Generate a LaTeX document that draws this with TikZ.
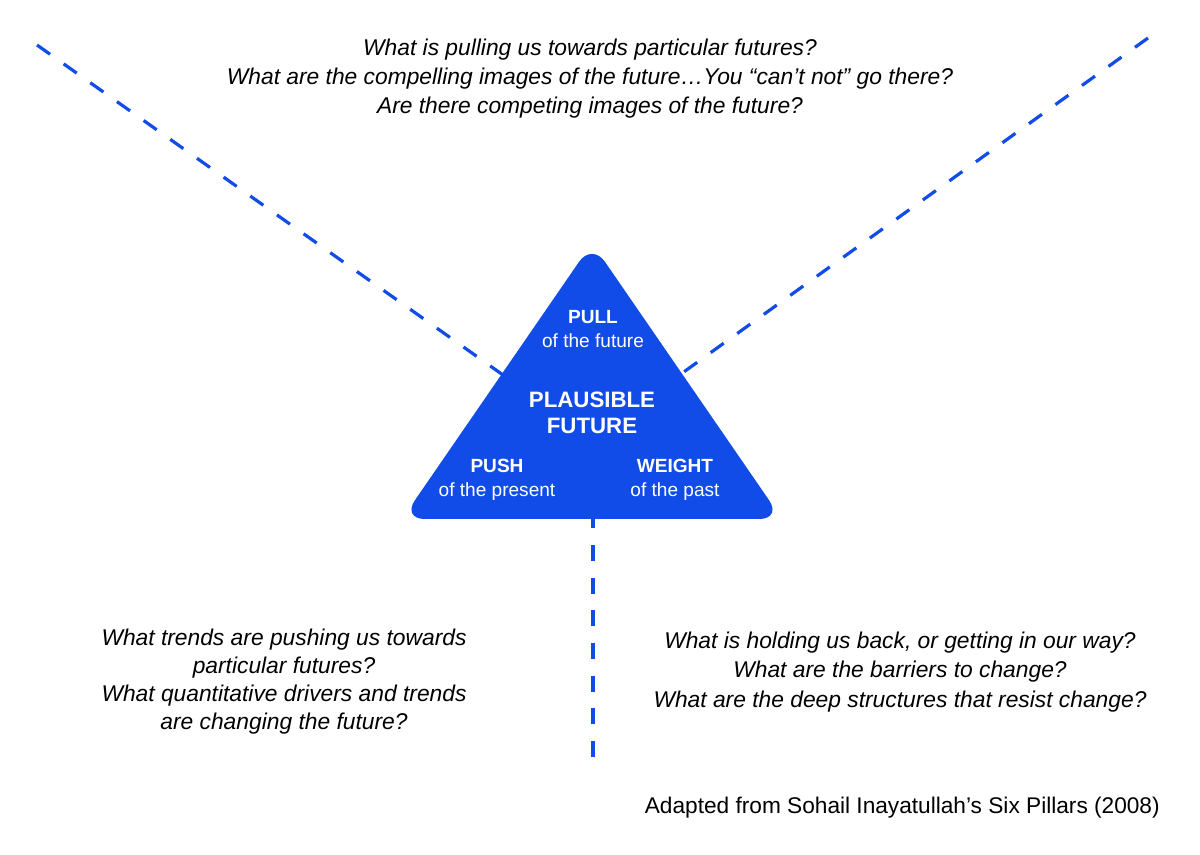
\documentclass[tikz,border=0pt]{standalone}
\usepackage{fontspec}
\setmainfont{Liberation Sans}
\definecolor{fblue}{RGB}{18,76,232}
\begin{document}
\begin{tikzpicture}[x=0.75pt,y=-0.75pt,
  dline/.style={draw=fblue,line width=2.4pt,dash pattern=on 12pt off 12.5pt},
  tri/.style={fill=fblue,rounded corners=17pt},
  question/.style={align=center,font=\fontsize{17.1}{21.8}\selectfont\itshape,text=black,inner sep=0pt},
  lbl/.style={align=center,text=white,font=\fontsize{14.3}{18}\selectfont,inner sep=0pt},
  bigl/.style={align=center,text=white,font=\fontsize{16.7}{19.5}\selectfont\bfseries,inner sep=0pt}]
\useasboundingbox (0,0) rectangle (1200,855);
\fill[white] (0,0) rectangle (1200,855);
% line ends
\coordinate (c) at (592,438);
\coordinate (tl) at (37,45);
\coordinate (tr) at (1148,38);
\coordinate (bot) at (593,757);
\draw[dline] (tl) -- (c);
\draw[dline] (tr) -- (c);
\draw[dline] (bot) -- (593,438);
% triangle
\coordinate (apex) at (592,243);
\coordinate (bl) at (402,519);
\coordinate (br) at (782,519);
\fill[tri] (apex) -- (br) -- (bl) -- cycle;
% labels in triangle
\node[lbl] (pull) at (593,329) {\textbf{PULL}\\of the future};
\node[bigl] (plaus) at (592,413) {PLAUSIBLE\\FUTURE};
\node[lbl] (push) at (497,480) {\textbf{PUSH}\\of the present};
\node[lbl] (weight) at (675,480) {\textbf{WEIGHT}\\of the past};
% questions
\node[question] (qtop) at (590,79) {What is pulling us towards particular futures?\\What are the compelling images of the future\ldots You “can’t not” go there?\\Are there competing images of the future?};
\node[question,font=\fontsize{17.1}{21}\selectfont\itshape] (qleft) at (284,682) {What trends are pushing us towards\\particular futures?\\What quantitative drivers and trends\\are changing the future?};
\node[question,font=\fontsize{17.1}{22.2}\selectfont\itshape] (qright) at (900,672) {What is holding us back, or getting in our way?\\What are the barriers to change?\\What are the deep structures that resist change?};
\node[anchor=east,inner sep=0pt,font=\fontsize{17}{20}\selectfont] (credit) at (1160,808) {Adapted from Sohail Inayatullah’s Six Pillars (2008)};
\end{tikzpicture}
\end{document}
